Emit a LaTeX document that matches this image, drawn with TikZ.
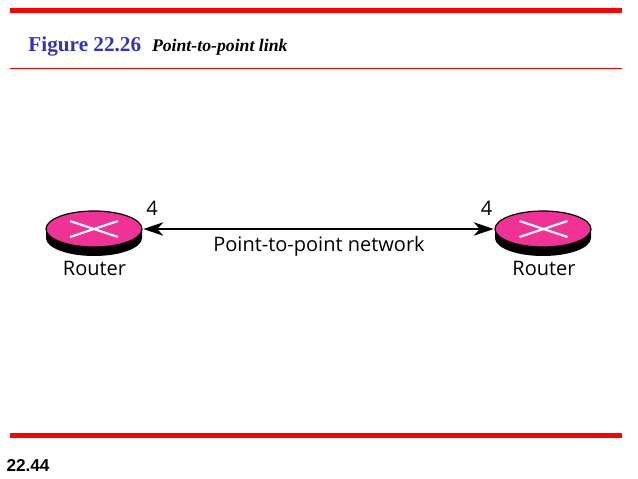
\documentclass[tikz,border=0pt]{standalone}
\usepackage{fontspec}
\setmainfont{Liberation Serif}
\newfontfamily\labelfont{Open Sans}
\newfontfamily\footfont{Liberation Sans}
\usetikzlibrary{shapes.geometric,arrows.meta}
\definecolor{rulered}{RGB}{255,0,0}
\definecolor{routerpink}{RGB}{240,50,150}
\definecolor{titleblue}{RGB}{51,51,187}
\tikzset{every picture/.style={line width=0.75pt},
  routertop/.style={draw=black,line width=0.9pt,fill=routerpink,shape=ellipse,minimum width=72pt,minimum height=27pt,inner sep=0pt},
  routerlabel/.style={inner sep=0pt,font=\labelfont\fontsize{15}{17}\selectfont,text=black},
  thickrule/.style={draw=rulered,line width=3.9pt},
  crossline/.style={draw=white,line width=1.6pt}}

\begin{document}
\begin{tikzpicture}[x=0.75pt,y=0.75pt,yscale=-1,xscale=1]
\useasboundingbox (0,0) rectangle (638,478);

%Rules
\draw [thickrule] (10,10.5) -- (622,10.5);
\draw [draw=rulered,line width=0.9pt] (10,68.7) -- (622,68.7);
\draw [thickrule] (10,435.5) -- (622,435.5);

%Router bodies
\fill [black] (46,229) -- (46,238) arc [start angle=180,end angle=0,x radius=48,y radius=18] -- (142,229) -- cycle;
\fill [black] (495,229) -- (495,238) arc [start angle=180,end angle=0,x radius=48,y radius=18] -- (591,229) -- cycle;

%Router tops
\node [routertop] (routerA) at (94,229) {};
\node [routertop] (routerB) at (543,229) {};

%Crosses
\draw [crossline] (70,221) -- (118,237);
\draw [crossline] (70,237) -- (118,221);
\draw [crossline] (519.5,221) -- (567.5,237);
\draw [crossline] (519.5,237) -- (567.5,221);

%Link
\draw [{Stealth[length=15pt,width=10pt,inset=4.5pt]}-{Stealth[length=15pt,width=10pt,inset=4.5pt]},line width=1.5pt,shorten <=0.5pt,shorten >=0.5pt] (routerA) -- (routerB);

% Text Node
\node [routerlabel] (labelA) at (94.5,268) {Router};
\node [routerlabel] (labelB) at (544,268) {Router};
\node [routerlabel] (portA) at (152,208) {4};
\node [routerlabel] (portB) at (486.5,208) {4};
\node [routerlabel] (linkname) at (319,246.5) {Point-to-point network};
\node [anchor=base west,inner sep=0pt,text=titleblue,font=\bfseries\fontsize{15.9}{18}\selectfont] (figtitle) at (28,51) {Figure 22.26};
\node [anchor=base west,inner sep=0pt,text=black,font=\bfseries\itshape\fontsize{13.3}{15}\selectfont] (figcaption) at (151.5,51) {Point-to-point link};
\node [anchor=base west,inner sep=0pt,text=black,font=\footfont\bfseries\fontsize{12.9}{15}\selectfont] (pagenum) at (6,471) {22.44};

\end{tikzpicture}
\end{document}
